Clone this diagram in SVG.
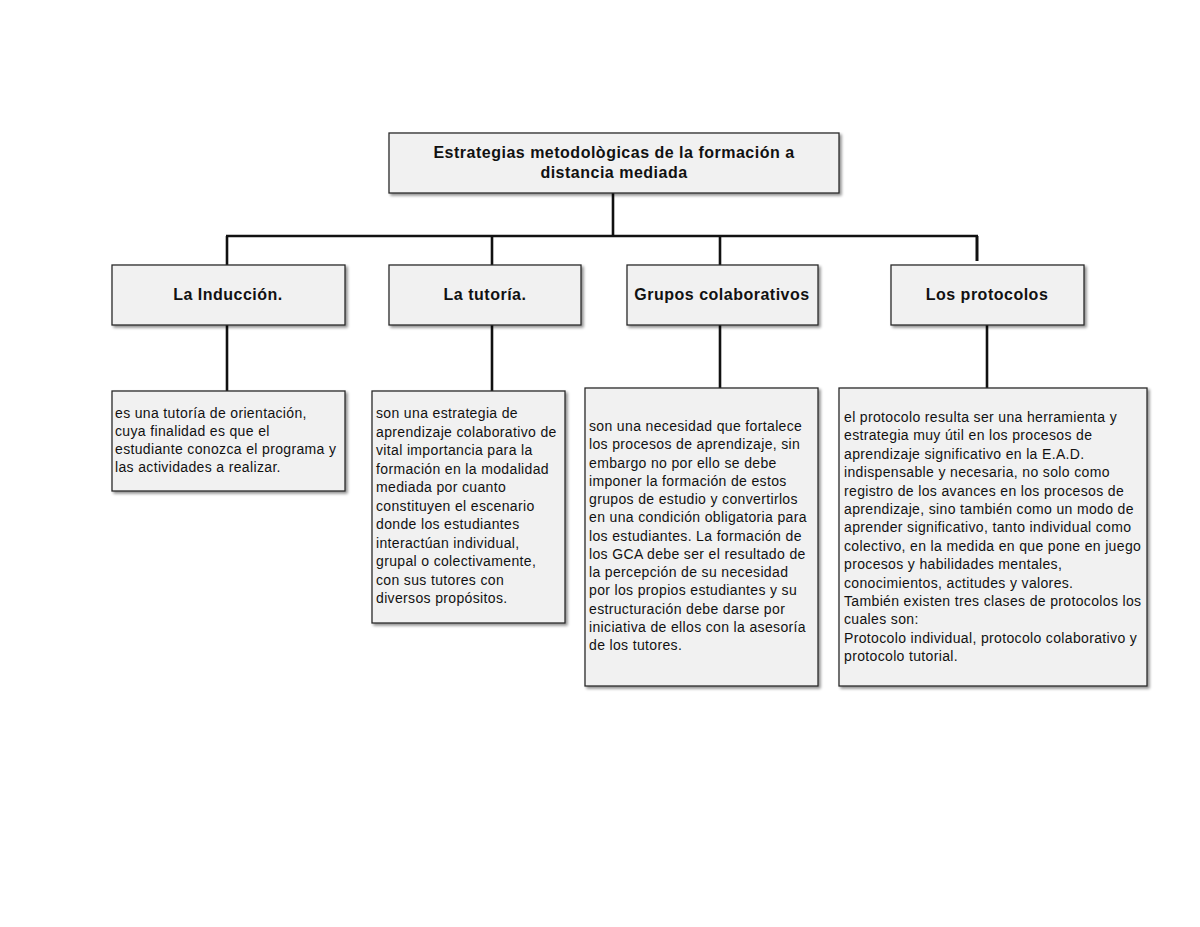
<svg xmlns="http://www.w3.org/2000/svg" width="1200" height="927" viewBox="0 0 1200 927">
<defs>
<filter id="sh" x="-5%" y="-5%" width="115%" height="115%">
<feGaussianBlur in="SourceAlpha" stdDeviation="1.5"/>
<feOffset dx="2" dy="2" result="b"/>
<feComponentTransfer><feFuncA type="linear" slope="0.45"/></feComponentTransfer>
<feMerge><feMergeNode/><feMergeNode in="SourceGraphic"/></feMerge>
</filter>
</defs>
<style>
.box{fill:#f1f1f1;stroke:#2b2b2b;stroke-width:1.3;filter:url(#sh)}
.title{font-family:"Liberation Sans",Arial,sans-serif;font-weight:bold;font-size:16px;letter-spacing:0.5px;fill:#111;text-anchor:middle}
.body{font-family:"Liberation Sans",Arial,sans-serif;font-size:14px;letter-spacing:0.35px;fill:#111}
.con{stroke:#111;stroke-width:2.6;fill:none}
</style>
<rect width="1200" height="927" fill="#fff"/>
<g id="connectors">
<line class="con" x1="613" y1="193" x2="613" y2="236"/>
<line class="con" x1="226" y1="236" x2="978" y2="236"/>
<line class="con" x1="227" y1="236" x2="227" y2="265"/>
<line class="con" x1="492" y1="236" x2="492" y2="265"/>
<line class="con" x1="720" y1="236" x2="720" y2="265"/>
<line class="con" x1="977" y1="236" x2="977" y2="261" style="stroke-width:3"/>
<line class="con" x1="227" y1="325" x2="227" y2="391"/>
<line class="con" x1="492" y1="325" x2="492" y2="391"/>
<line class="con" x1="720" y1="325" x2="720" y2="388"/>
<line class="con" x1="987" y1="325" x2="987" y2="388"/>
</g>
<g id="root">
<rect class="box" x="389" y="133" width="450" height="60"/>
<text class="title" x="614" y="158">Estrategias metodològicas de la formación a</text>
<text class="title" x="614" y="178">distancia mediada</text>
</g>
<g id="induccion">
<rect class="box" x="112" y="265" width="233" height="60"/>
<text class="title" x="228" y="300">La Inducción.</text>
</g>
<g id="tutoria">
<rect class="box" x="389" y="265" width="192" height="60"/>
<text class="title" x="485" y="300">La tutoría.</text>
</g>
<g id="grupos">
<rect class="box" x="627" y="265" width="191" height="60"/>
<text class="title" x="722" y="300">Grupos colaborativos</text>
</g>
<g id="protocolos">
<rect class="box" x="891" y="265" width="193" height="60"/>
<text class="title" x="987" y="300">Los protocolos</text>
</g>
<g id="induccion-desc">
<rect class="box" x="112" y="391" width="233" height="100"/>
<text class="body" x="115" y="418">es una tutoría de orientación,</text>
<text class="body" x="115" y="436">cuya finalidad es que el</text>
<text class="body" x="115" y="454">estudiante conozca el programa y</text>
<text class="body" x="115" y="472">las actividades a realizar.</text>
</g>
<g id="tutoria-desc">
<rect class="box" x="372" y="391" width="193" height="232"/>
<text class="body" x="376" y="418">son una estrategia de</text>
<text class="body" x="376" y="436.5">aprendizaje colaborativo de</text>
<text class="body" x="376" y="455">vital importancia para la</text>
<text class="body" x="376" y="473.5">formación en la modalidad</text>
<text class="body" x="376" y="492">mediada por cuanto</text>
<text class="body" x="376" y="510.5">constituyen el escenario</text>
<text class="body" x="376" y="529">donde los estudiantes</text>
<text class="body" x="376" y="547.5">interactúan individual,</text>
<text class="body" x="376" y="566">grupal o colectivamente,</text>
<text class="body" x="376" y="584.5">con sus tutores con</text>
<text class="body" x="376" y="603">diversos propósitos.</text>
</g>
<g id="grupos-desc">
<rect class="box" x="585" y="388" width="233" height="298"/>
<text class="body" x="589" y="431">son una necesidad que fortalece</text>
<text class="body" x="589" y="449.25">los procesos de aprendizaje, sin</text>
<text class="body" x="589" y="467.5">embargo no por ello se debe</text>
<text class="body" x="589" y="485.75">imponer la formación de estos</text>
<text class="body" x="589" y="504">grupos de estudio y convertirlos</text>
<text class="body" x="589" y="522.25">en una condición obligatoria para</text>
<text class="body" x="589" y="540.5">los estudiantes. La formación de</text>
<text class="body" x="589" y="558.75">los GCA debe ser el resultado de</text>
<text class="body" x="589" y="577">la percepción de su necesidad</text>
<text class="body" x="589" y="595.25">por los propios estudiantes y su</text>
<text class="body" x="589" y="613.5">estructuración debe darse por</text>
<text class="body" x="589" y="631.75">iniciativa de ellos con la asesoría</text>
<text class="body" x="589" y="650">de los tutores.</text>
</g>
<g id="protocolos-desc">
<rect class="box" x="839" y="388" width="308" height="298"/>
<text class="body" x="844" y="422">el protocolo resulta ser una herramienta y</text>
<text class="body" x="844" y="440.4">estrategia muy útil en los procesos de</text>
<text class="body" x="844" y="458.8">aprendizaje significativo en la E.A.D.</text>
<text class="body" x="844" y="477.2">indispensable y necesaria, no solo como</text>
<text class="body" x="844" y="495.6">registro de los avances en los procesos de</text>
<text class="body" x="844" y="514">aprendizaje, sino también como un modo de</text>
<text class="body" x="844" y="532.4">aprender significativo, tanto individual como</text>
<text class="body" x="844" y="550.8">colectivo, en la medida en que pone en juego</text>
<text class="body" x="844" y="569.2">procesos y habilidades mentales,</text>
<text class="body" x="844" y="587.6">conocimientos, actitudes y valores.</text>
<text class="body" x="844" y="606">También existen tres clases de protocolos los</text>
<text class="body" x="844" y="624.4">cuales son:</text>
<text class="body" x="844" y="642.8">Protocolo individual, protocolo colaborativo y</text>
<text class="body" x="844" y="661.2">protocolo tutorial.</text>
</g>
</svg>
